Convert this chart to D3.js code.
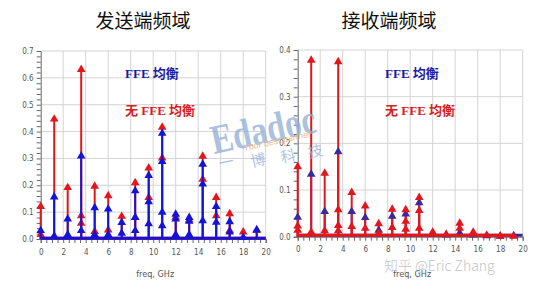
<!DOCTYPE html>
<html>
<head>
<meta charset="utf-8">
<title></title>
<script src="https://d3js.org/d3.v7.min.js"></script>
<style>
  html, body { margin: 0; padding: 0; background: white; }
</style>
</head>
<body>
<div id="chart"></div>
<script>
// harmonic frequencies (GHz)
const freqs = [0, 1.2, 2.4, 3.6, 4.8, 6, 7.2, 8.4, 9.6, 10.8, 12, 13.2, 14.4, 15.6, 16.8, 18, 19.2];

// transmitter side peaks
const txNoFfe = [0.125, 0.45, 0.195, 0.635, 0.2, 0.165, 0.088, 0.213, 0.268, 0.42, 0.085, 0.075, 0.312, 0.158, 0.098, 0.03, 0.035];
const txFfe   = [0.035, 0.16, 0.078, 0.313, 0.12, 0.115, 0.065, 0.183, 0.24, 0.397, 0.096, 0.084, 0.282, 0.125, 0.068, 0.01, 0.038];
// secondary bins on the same stems
const txNoFfeExtra = [[3.6, 0.09], [3.6, 0.062], [4.8, 0.032], [6, 0.037], [8.4, 0.084], [9.6, 0.158], [10.8, 0.305],
                      [14.4, 0.226], [15.6, 0.09], [16.8, 0.035], [0, 0.02]];
const txFfeExtra = [[3.6, 0.035], [4.8, 0.02], [6, 0.02], [8.4, 0.084], [8.4, 0.035], [9.6, 0.142], [9.6, 0.06],
                    [10.8, 0.292], [10.8, 0.103], [10.8, 0.053], [12, 0.078], [13.2, 0.07], [14.4, 0.208], [14.4, 0.072],
                    [15.6, 0.066], [16.8, 0.03], [7.2, 0.025], [2.4, 0.02], [1.2, 0.015], [13.2, 0.02], [12, 0.02]];

// receiver side peaks
const rxNoFfe = [0.152, 0.38, 0.138, 0.377, 0.097, 0.068, 0.03, 0.061, 0.06, 0.086, 0.012, 0.007, 0.031, 0.012, 0.005, 0.003, 0.003];
const rxFfe   = [0.044, 0.136, 0.056, 0.184, 0.056, 0.043, 0.016, 0.046, 0.051, 0.075, 0.008, 0.006, 0.01, 0.006, 0.004, 0.003, 0.004];
const rxNoFfeExtra = [[0, 0.025], [0, 0.016], [1.2, 0.012], [2.4, 0.015], [3.6, 0.06], [3.6, 0.026], [3.6, 0.015],
                      [4.8, 0.024], [6, 0.02], [7.2, 0.01], [8.4, 0.022], [9.6, 0.035], [9.6, 0.018], [10.8, 0.058],
                      [10.8, 0.02], [14.4, 0.02]];
const rxFfeExtra = [];

// noise floor
const txFloor = [[0, 0.003], [20, 0.003]];
const rxFloorRed = [[0, 0.003], [19.3, 0.003]];
const rxFloorBlue = [[0, 0.003], [20, 0.003]];

const xTicks = [0, 2, 4, 6, 8, 10, 12, 14, 16, 18, 20];
const txYTicks = [0, 0.1, 0.2, 0.3, 0.4, 0.5, 0.6, 0.7];
const rxYTicks = [0, 0.1, 0.2, 0.3, 0.4];

const RED = "#e3161c";
const BLUE = "#1414d8";
const PURPLE = "#3a2a9c";

const svg = d3.select("#chart").append("svg")
  .attr("width", 549).attr("height", 290);
svg.append("rect").attr("width", 549).attr("height", 290).attr("fill", "white");

const tickFont = "'Liberation Sans Narrow', 'DejaVu Sans Condensed', 'Liberation Sans', sans-serif";
const cjkSerif = "'Liberation Serif', 'Noto Sans CJK SC', serif";

function pts(vals) { return freqs.map((f, i) => [f, vals[i]]); }

function panel(o) {
  const x = d3.scaleLinear().domain([0, 20]).range([o.left, o.right]);
  const y = d3.scaleLinear().domain([0, o.yMax]).range([o.bottom, o.top]);
  const g = svg.append("g");

  // grid
  g.selectAll(".vg").data(xTicks.slice(1)).enter().append("line")
    .attr("x1", d => x(d)).attr("x2", d => x(d))
    .attr("y1", y(0)).attr("y2", y(o.yMax))
    .attr("stroke", "#d4d4d4").attr("stroke-width", 1);
  g.selectAll(".hg").data(o.yTicks.slice(1)).enter().append("line")
    .attr("x1", x(0)).attr("x2", x(20))
    .attr("y1", d => y(d)).attr("y2", d => y(d))
    .attr("stroke", "#d4d4d4").attr("stroke-width", 1);

  // axes
  const ax = g.append("g").attr("transform", `translate(0,${y(0)})`)
    .call(d3.axisBottom(x).tickValues(d3.range(0, 20.01, 0.5)).tickSize(4)
      .tickFormat(d => xTicks.includes(d) ? d : ""));
  const ay = g.append("g").attr("transform", `translate(${x(0)},0)`)
    .call(d3.axisLeft(y).tickValues(d3.range(0, o.yMax + 0.001, 0.02)).tickSize(4)
      .tickFormat(d => o.yTicks.some(t => Math.abs(t - d) < 1e-6) ? d.toFixed(1) : ""));
  [ax, ay].forEach(a => {
    a.select(".domain").attr("stroke", "#666");
    a.selectAll(".tick line").attr("stroke", "#666");
    a.selectAll("text").attr("fill", "#555").style("font-family", tickFont).style("font-size", "8px");
  });
  ax.selectAll("text").attr("dy", "1.1em");

  g.append("text").attr("x", (x(0) + x(20)) / 2 + 2).attr("y", 277)
    .attr("text-anchor", "middle").attr("fill", "#555")
    .style("font-family", tickFont).style("font-size", "9px").text("freq, GHz");

  const tri = d3.symbol().type(d3.symbolTriangle).size(32);

  function floor(data, color) {
    g.append("path").datum(data)
      .attr("d", d3.line().x(d => x(d[0])).y(d => y(d[1])))
      .attr("stroke", color).attr("stroke-width", 3).attr("fill", "none");
  }
  function stems(data, color) {
    g.append("g").selectAll("line").data(data).enter().append("line")
      .attr("x1", d => x(d[0])).attr("x2", d => x(d[0]))
      .attr("y1", y(0)).attr("y2", d => y(d[1]))
      .attr("stroke", color).attr("stroke-width", 2);
  }
  function marks(data, color) {
    g.append("g").selectAll("path").data(data).enter().append("path")
      .attr("d", tri)
      .attr("transform", d => `translate(${x(d[0])},${y(d[1]) + 1})`)
      .attr("fill", color);
  }

  o.draw({ floor, stems, marks });

  // legend
  g.append("text").attr("x", o.legX).attr("y", 78).attr("fill", "#1a1aa6")
    .style("font-family", cjkSerif).style("font-weight", "bold").style("font-size", "13px")
    .text("FFE 均衡");
  g.append("text").attr("x", o.legX).attr("y", 115).attr("fill", "#d8201f")
    .style("font-family", cjkSerif).style("font-weight", "bold").style("font-size", "13px")
    .text("无 FFE 均衡");

  // title
  svg.append("text").attr("x", o.titleX).attr("y", 28).attr("text-anchor", "middle")
    .attr("fill", "#111").style("font-family", "'Noto Sans CJK SC', sans-serif")
    .style("font-weight", "400").style("font-size", "19px").text(o.title);
}

panel({
  left: 40.7, right: 265.7, top: 51, bottom: 239, yMax: 0.7, yTicks: txYTicks,
  legX: 125, titleX: 143, title: "发送端频域",
  draw: ({ floor, stems, marks }) => {
    const red = pts(txNoFfe).concat(txNoFfeExtra);
    const blue = pts(txFfe).concat(txFfeExtra);
    floor(txFloor, RED);
    stems(red, RED);
    marks(red, RED);
    stems(pts(txFfe), BLUE);
    marks(blue, BLUE);
    floor(txFloor, BLUE);
  }
});

panel({
  left: 297.7, right: 522.7, top: 50, bottom: 236.7, yMax: 0.4, yTicks: rxYTicks,
  legX: 385, titleX: 389, title: "接收端频域",
  draw: ({ floor, stems, marks }) => {
    const red = pts(rxNoFfe).concat(rxNoFfeExtra);
    const blue = pts(rxFfe).concat(rxFfeExtra);
    floor(rxFloorBlue, PURPLE);
    stems(blue, PURPLE);
    stems(red, RED);
    marks(blue, PURPLE);
    marks(red, RED);
    floor(rxFloorRed, RED);
  }
});

// watermarks
const wm = svg.append("g").attr("opacity", 0.75);
wm.append("text").attr("transform", "translate(214,154) rotate(-12) scale(1,1.25)")
  .attr("fill", "#8eaed6").style("font-family", "'Liberation Serif', serif")
  .style("font-weight", "bold").style("font-size", "33px").text("Edadoc");
wm.append("text").attr("transform", "translate(244,151) rotate(-12)")
  .attr("fill", "#e9a66a").style("font-family", "'Liberation Sans', sans-serif")
  .style("font-style", "italic").style("font-size", "9px").text("Your best partner");
[["一", 220, 169], ["博", 252, 167], ["科", 282, 163], ["技", 309, 158]].forEach(c => {
  wm.append("text").attr("transform", `translate(${c[1]},${c[2]}) rotate(-12)`)
    .attr("fill", "#93b1d8").style("font-family", "'Noto Sans CJK SC', sans-serif")
    .style("font-size", "15px").text(c[0]);
});
svg.append("text").attr("x", 384).attr("y", 271).attr("fill", "#c4c4c4")
  .style("font-family", "'Noto Sans CJK SC', sans-serif").style("font-weight", "300")
  .style("font-size", "14px").text("知乎 @Eric Zhang");
</script>
</body>
</html>
